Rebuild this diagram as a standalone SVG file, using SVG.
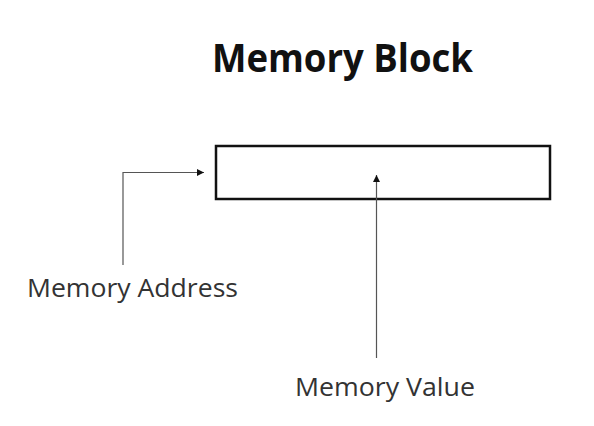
<svg xmlns="http://www.w3.org/2000/svg" width="594" height="426" viewBox="0 0 594 426">
<style>
.lbl{font-family:"Open Sans","Liberation Sans",sans-serif;font-size:25px;fill:#333}
.title{font-family:"Open Sans","Liberation Sans",sans-serif;font-size:40px;font-weight:bold;fill:#111}
.conn{stroke:#555;stroke-width:1.2;fill:none}
</style>
<defs>
<marker id="ah" viewBox="0 0 10 10" refX="10" refY="5" markerWidth="7" markerHeight="7" markerUnits="userSpaceOnUse" orient="auto">
<path d="M0,0 L10,5 L0,10 z" fill="#111"/>
</marker>
</defs>
<rect width="594" height="426" fill="#fff"/>
<text class="title" x="342.5" y="72" text-anchor="middle" textLength="261" lengthAdjust="spacingAndGlyphs">Memory Block</text>
<g id="block">
<rect x="216" y="146" width="334" height="53" fill="#fff" stroke="#111" stroke-width="2.5"/>
</g>
<g id="address">
<text class="lbl" x="27" y="297" textLength="211" lengthAdjust="spacingAndGlyphs">Memory Address</text>
</g>
<g id="value">
<text class="lbl" x="295" y="396" textLength="180" lengthAdjust="spacingAndGlyphs">Memory Value</text>
</g>
<g id="connectors">
<polyline class="conn" points="123,265 123,172.5 204,172.5" marker-end="url(#ah)"/>
<line class="conn" x1="376.5" y1="358" x2="376.5" y2="175" marker-end="url(#ah)"/>
</g>
</svg>
